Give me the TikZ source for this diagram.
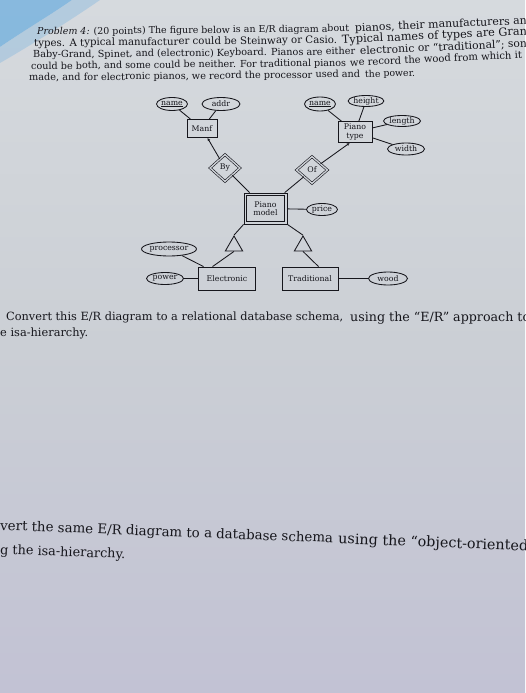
\documentclass[tikz,border=0pt]{standalone}
\usepackage{fontspec}
\setmainfont{DejaVu Serif}
\usetikzlibrary{shapes.geometric,arrows.meta,calc}
\definecolor{ink}{RGB}{22,22,28}
\definecolor{pagetop}{RGB}{214,218,222}
\definecolor{pagemid}{RGB}{203,207,213}
\definecolor{pagebot}{RGB}{194,194,212}
\definecolor{cornerblue}{RGB}{110,175,222}
\tikzset{
  lbl/.style={font=\fontsize{7.8}{8.5}\selectfont, text=ink, inner sep=0pt, align=center},
  ent/.style={lbl, draw=ink, line width=0.85pt, rectangle},
  attr/.style={lbl, draw=ink, line width=0.85pt, ellipse},
  rel/.style={lbl, draw=ink, line width=0.6pt, diamond, double=pagemid, double distance=1.4pt},
  isa/.style={draw=ink, line width=0.85pt, regular polygon, regular polygon sides=3, minimum size=20pt, inner sep=0pt},
  conn/.style={draw=ink, line width=0.85pt},
  toarrow/.style={conn, -{Latex[open,length=3pt,width=3pt]}},
  txt/.style={anchor=base west, inner sep=0pt, text=ink, font=\fontsize{10}{12}\selectfont}
}
\begin{document}
\begin{tikzpicture}[x=1pt,y=-1pt]
\useasboundingbox (0,0) rectangle (525,693);
\clip (0,0) rectangle (525,693);
% page background
\shade[top color=pagetop, bottom color=pagebot, middle color=pagemid] (0,0) rectangle (525,693);
\fill[cornerblue, opacity=0.75] (0,0) -- (72,0) .. controls (52,14) and (25,30) .. (0,47) -- cycle;
\fill[cornerblue!55!pagetop, opacity=0.6] (72,0) -- (100,0) .. controls (74,18) and (33,44) .. (0,63) -- (0,47) .. controls (25,30) and (52,14) .. (72,0) -- cycle;

% problem statement (two pieces per line, the right piece nearer the camera)
\node[txt, rotate=0.6] (p1a) at (37,35) {\resizebox{312pt}{!}{\textit{Problem 4:} (20 points) The figure below is an E/R diagram about}};
\node[txt, rotate=2.6] (p1b) at (355,31.8) {\resizebox{172pt}{!}{pianos, their manufacturers an}};
\node[txt, rotate=0.6] (p2a) at (34,46.5) {\resizebox{303pt}{!}{types. A typical manufacturer could be Steinway or Casio.}};
\node[txt, rotate=2.6] (p2b) at (342,43.4) {\resizebox{185pt}{!}{Typical names of types are Gran}};
\node[txt, rotate=0.6] (p3a) at (33,58) {\resizebox{322pt}{!}{Baby-Grand, Spinet, and (electronic) Keyboard. Pianos are either}};
\node[txt, rotate=2.6] (p3b) at (360,54.6) {\resizebox{167pt}{!}{electronic or “traditional”; son}};
\node[txt, rotate=0.6] (p4a) at (31,69.5) {\resizebox{315pt}{!}{could be both, and some could be neither. For traditional pianos}};
\node[txt, rotate=2.6] (p4b) at (350,66.2) {\resizebox{172pt}{!}{we record the wood from which it}};
\node[txt, rotate=0.6] (p5a) at (29,81) {\resizebox{331pt}{!}{made, and for electronic pianos, we record the processor used and}};
\node[txt, rotate=1.6] (p5b) at (365,77.5) {\resizebox{50pt}{!}{the power.}};

% entities and attributes
\node[attr, minimum width=31pt, minimum height=13pt] (mname) at (172,104) {\underline{name}};
\node[attr, minimum width=38pt, minimum height=13pt] (maddr) at (221,104) {addr};
\node[ent, minimum width=30pt, minimum height=18pt] (manf) at (202,128.5) {Manf};
\node[rel, minimum width=30pt, minimum height=27pt] (by) at (225,168) {By};

\node[attr, minimum width=31pt, minimum height=14pt] (ptname) at (320,104) {\underline{name}};
\node[attr, minimum width=35pt, minimum height=11pt] (height) at (366,101) {height};
\node[attr, minimum width=37pt, minimum height=11pt] (length) at (402,121) {length};
\node[attr, minimum width=37pt, minimum height=12pt] (width) at (406,149) {width};
\node[ent, minimum width=34pt, minimum height=21pt] (ptype) at (355,132) {Piano\\type};
\node[rel, minimum width=31pt, minimum height=27pt] (of) at (312,170) {Of};

\node[ent, minimum width=43pt, minimum height=31pt] (pmodel) at (265.5,208.5) {Piano\\model};
\draw[ink, line width=0.85pt] ($(pmodel.north west)+(3,3)$) rectangle ($(pmodel.south east)+(-3,-3)$);
\node[attr, minimum width=31pt, minimum height=12pt] (price) at (322,209.5) {price};

\node[isa] (tl) at (234,246) {};
\node[isa] (tr) at (303,246) {};

\node[attr, minimum width=53pt, minimum height=14pt] (proc) at (169,249) {processor};
\node[attr, minimum width=37pt, minimum height=12pt] (power) at (165,278.5) {power};
\node[ent, minimum width=57pt, minimum height=23pt] (elec) at (227,278.5) {Electronic};
\node[ent, minimum width=56pt, minimum height=23pt] (trad) at (310,278.5) {Traditional};
\node[attr, minimum width=39pt, minimum height=13pt] (wood) at (388,278.5) {wood};

% connectors
\draw[conn] (mname) -- (manf);
\draw[conn] (maddr) -- (manf);
\draw[toarrow] (by) -- (manf);
\draw[conn] (by) -- (pmodel);
\draw[conn] (ptname) -- (ptype);
\draw[conn] (height) -- (ptype);
\draw[conn] (length) -- (ptype);
\draw[conn] (width) -- (ptype);
\draw[toarrow] (of) -- ($(ptype.south west)!0.35!(ptype.south east)$);
\draw[conn] (of) -- (pmodel);
\draw[conn] (pmodel) -- (price);
\draw[conn] (pmodel.south west) -- (tl.north);
\draw[conn] (pmodel.south east) -- (tr.north);
\draw[conn] (tl.south) -- ($(elec.north west)!0.25!(elec.north east)$);
\draw[conn] (tr.south) -- ($(trad.north west)!0.65!(trad.north east)$);
\draw[conn] (proc) -- (elec);
\draw[conn] (power) -- (elec);
\draw[conn] (trad) -- (wood);

% questions
\node[txt] (qa1) at (6,320) {\resizebox{337pt}{!}{Convert this E/R diagram to a relational database schema,}};
\node[txt] (qa1b) at (350,321) {\resizebox{180pt}{!}{using the “E/R” approach to}};
\node[txt] (qa2) at (0,336) {\resizebox{88pt}{!}{e isa-hierarchy.}};
\node[txt, rotate=-2.2] (qb1) at (0,530) {\resizebox{333pt}{!}{vert the same E/R diagram to a database schema}};
\node[txt, rotate=-2.2] (qb1b) at (338,543.5) {\resizebox{190pt}{!}{using the “object-oriented}};
\node[txt, rotate=-2] (qb2) at (0,554) {\resizebox{125pt}{!}{g the isa-hierarchy.}};
\end{tikzpicture}
\end{document}
